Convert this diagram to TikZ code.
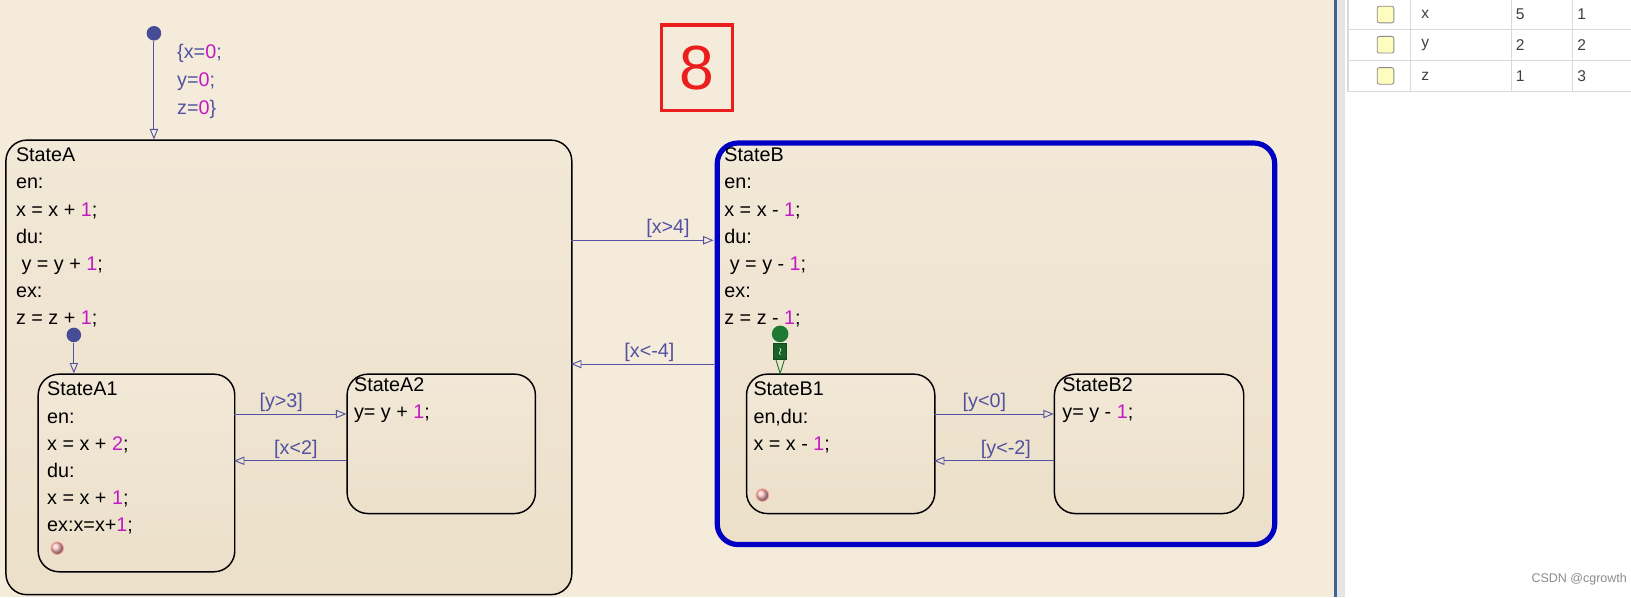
\documentclass[tikz,border=0pt]{standalone}
\usepackage{fontspec}
\setmainfont{Liberation Sans}
\usetikzlibrary{arrows.meta}
\definecolor{bg}{HTML}{F5EBDB}
\definecolor{stfill}{HTML}{F2E8D7}
\definecolor{stfill2}{HTML}{ECE0CA}
\definecolor{lbl}{HTML}{5252A0}
\definecolor{num}{HTML}{C21AC2}
\definecolor{dotc}{HTML}{464C96}
\definecolor{blueb}{HTML}{0000C4}
\definecolor{grn}{HTML}{1E7A32}
\newcommand{\nm}[1]{\textcolor{num}{#1}}
\tikzset{
  st/.style={draw=black, line width=0.7pt, rounded corners=10pt, top color=stfill, bottom color=stfill2},
  txt/.style={anchor=north west, align=left, font=\fontsize{9.5}{13}\selectfont, inner sep=0pt},
  tr/.style={draw=lbl, line width=0.45pt, -{Triangle[open,length=5pt,width=4pt]}},
  tl/.style={text=lbl, font=\fontsize{9.5}{11}\selectfont, inner sep=1pt},
  tcell/.style={font=\fontsize{7.5}{8}\selectfont, text=black!75, anchor=west, inner sep=0pt}
}
\begin{document}
\begin{tikzpicture}[x=0.5pt,y=-0.5pt]
\useasboundingbox (0,0) rectangle (1568,574);
\fill[bg] (0,0) rectangle (1283,574);
\fill[black!10] (1285,0) rectangle (1293,574);
\fill[white] (1293,0) rectangle (1568,574);
\draw[line width=1.5pt, draw={rgb,255:red,60;green,100;blue,150}] (1284,0) -- (1284,574);
% table
\foreach \yy in {28,58,88} \draw[black!15, line width=0.6pt] (1296,\yy) -- (1568,\yy);
\foreach \xx in {1296,1356,1453,1512} \draw[black!15, line width=0.6pt] (\xx,0) -- (\xx,88);
\foreach \yy/\v/\a/\b in {14/x/5/1,43/y/2/2,73/z/1/3}{
  \node[draw=black!45, fill=yellow!25, rounded corners=1pt, minimum size=8pt, inner sep=0pt] (ic\v) at (1332,\yy) {};
  \node[tcell] (n\v) at (1366,\yy) {\v};
  \node[tcell] (a\v) at (1457,\yy) {\a};
  \node[tcell] (b\v) at (1516,\yy) {\b};
}
% red 8
\node[draw={rgb,255:red,235;green,30;blue,30}, line width=1.6pt, minimum width=34pt, minimum height=41pt, inner sep=0pt, text={rgb,255:red,235;green,30;blue,30}, font=\fontsize{30}{30}\selectfont] (eight) at (670,65) {8};
% states
\node[st, minimum width=272pt, minimum height=218.5pt, anchor=north west] (A) at (5,134) {};
\node[st, draw=blueb, line width=2.5pt, minimum width=268pt, minimum height=193pt, anchor=north west] (B) at (687,135) {};
\node[st, minimum width=94.5pt, minimum height=95pt, anchor=north west] (A1) at (36,359) {};
\node[st, minimum width=90.5pt, minimum height=67pt, anchor=north west] (A2) at (333,359) {};
\node[st, minimum width=90.5pt, minimum height=67pt, anchor=north west] (B1) at (717,359) {};
\node[st, minimum width=91pt, minimum height=67pt, anchor=north west] (B2) at (1013,359) {};
% texts
\node[txt] (tA) at (15,142) {StateA\\en:\\x = x + \nm{1};\\du:\\\ y = y + \nm{1};\\ex:\\z = z + \nm{1};};
\node[txt] (tB) at (696,142) {StateB\\en:\\x = x - \nm{1};\\du:\\\ y = y - \nm{1};\\ex:\\z = z - \nm{1};};
\node[txt] (tA1) at (45,367) {StateA1\\en:\\x = x + \nm{2};\\du:\\x = x + \nm{1};\\ex:x=x+\nm{1};};
\node[txt] (tA2) at (340,363) {StateA2\\y= y + \nm{1};};
\node[txt] (tB1) at (724,367) {StateB1\\en,du:\\x = x - \nm{1};};
\node[txt] (tB2) at (1021,363) {StateB2\\y= y - \nm{1};};
% pink dots
\node[circle, draw=red!40, ball color=red!25, minimum size=6pt, inner sep=0pt] (pA1) at (55,527) {};
\node[circle, draw=red!40, ball color=red!25, minimum size=6pt, inner sep=0pt] (pB1) at (733,476) {};
% default transitions
\node[circle, fill=dotc, minimum size=7pt, inner sep=0pt] (d0) at (148,32) {};
\draw[tr] (d0) -- (148,134);
\node[txt, text=lbl, font=\fontsize{9.5}{13.5}\selectfont] (init) at (170,42) {\{x=\nm{0};\\y=\nm{0};\\z=\nm{0}\}};
\node[circle, fill=dotc, minimum size=7pt, inner sep=0pt] (d1) at (71,322) {};
\draw[tr] (d1) -- (71,359);
\node[circle, fill=grn, minimum size=8pt, inner sep=0pt] (d2) at (750,321) {};
\node[fill=grn!80!black, draw=grn!60!black, minimum width=6.5pt, minimum height=8pt, inner sep=0pt, text=white, font=\tiny] (g) at (750,338) {$\wr$};
\draw[grn, line width=0.45pt] (746,346) -- (750,359) -- (754,346);
% transitions
\draw[tr] (549,231) -- (686,231) node[tl, pos=0.68, above] (l1) {[x>4]};
\draw[tr] (686,350) -- (549,350) node[tl, pos=0.45, above] (l2) {[x<-4]};
\draw[tr] (225,398) -- (333,398) node[tl, pos=0.42, above] (l3) {[y>3]};
\draw[tr] (333,443) -- (225,443) node[tl, pos=0.45, above] (l4) {[x<2]};
\draw[tr] (898,398) -- (1013,398) node[tl, pos=0.42, above] (l5) {[y<0]};
\draw[tr] (1013,443) -- (898,443) node[tl, pos=0.4, above] (l6) {[y<-2]};
\node[text=black!45, font=\fontsize{6}{7}\selectfont, anchor=west, inner sep=0pt] (wm) at (1472,557) {CSDN @cgrowth};
\end{tikzpicture}
\end{document}
